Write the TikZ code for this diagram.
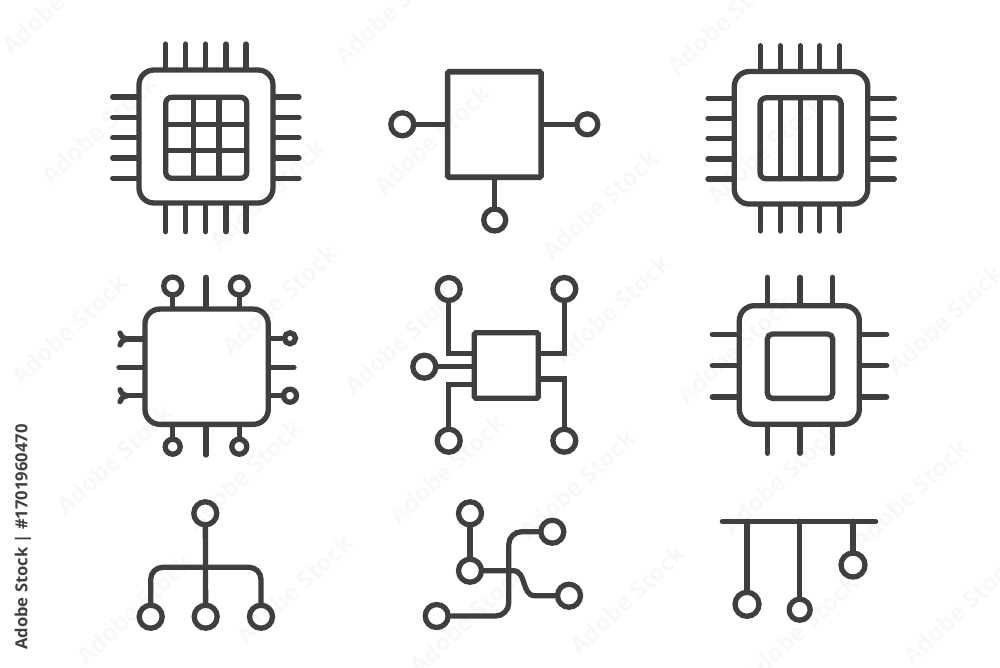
\documentclass[tikz,border=0pt]{standalone}
\usepackage{fontspec}
\newfontfamily\stockfont{Open Sans}
\definecolor{icongray}{HTML}{3F3F3F}
\definecolor{stampgray}{HTML}{F8F8F8}
\tikzset{
    wire/.style={draw=icongray,line width=5.3pt,line cap=round},
    chipbox/.style={draw=icongray,line width=5.3pt,rectangle,rounded corners=15pt,inner sep=0pt},
    corebox/.style={chipbox,rounded corners=6pt},
    pad/.style={draw=icongray,line width=5.3pt,circle,inner sep=0pt,minimum size=23pt},
    stampnote/.style={text=stampgray,rotate=43,anchor=west,inner sep=0pt,font=\stockfont\bfseries\fontsize{24}{24}\selectfont}
}
\begin{document}
\begin{tikzpicture}[x=1pt,y=-1pt]
    \useasboundingbox (0,0) rectangle (1000,667);
    \foreach \x/\y in {5/50,45/180,15/380,225/350,60/510,190/525,80/660,240/640,-120/235}
        \foreach \k in {0,1,2}
            \node[stampnote] (stamp\x-\k) at ({\x+333*\k},{\y+10*\k}) {Adobe Stock};
    \node[rotate=90,anchor=west,inner sep=0pt,text=icongray,font=\stockfont\bfseries\fontsize{16.6}{16.6}\selectfont] (stockline) at (23,650) {Adobe Stock | \#1701960470};

    \node[chipbox,minimum width=134pt,minimum height=133pt] (chipa) at (206,136.5) {};
    \node[corebox,minimum width=81pt,minimum height=81pt] (corea) at (206.2,137.8) {};
    \draw[wire] (193.3,97.8) -- (193.3,178.2);
    \draw[wire] (219,97.8) -- (219,178.2);
    \draw[wire] (165.7,124.3) -- (246.7,124.3);
    \draw[wire] (165.7,150.7) -- (246.7,150.7);
    \foreach \x in {165.7,185.7,205.7,226,246} {
        \draw[wire] (\x,44) -- (chipa.north -| \x,44);
        \draw[wire] (\x,231.7) -- (chipa.south -| \x,231.7);
    }
    \foreach \y in {97,117.3,137.7,158,178.3} {
        \draw[wire] (112.7,\y) -- (chipa.west |- 112.7,\y);
        \draw[wire] (299,\y) -- (chipa.east |- 299,\y);
    }

    \node[draw=icongray,line width=5.6pt,rectangle,rounded corners=1.5pt,inner sep=0pt,minimum width=93.5pt,minimum height=105.5pt] (blockb) at (494.4,124.5) {};
    \node[pad] (padbl) at (402.3,124.3) {};
    \node[pad,minimum size=21pt] (padbr) at (587.3,124.3) {};
    \node[pad,minimum size=22pt] (padbb) at (494.7,220) {};
    \draw[wire] (padbl) -- (blockb.west |- padbl);
    \draw[wire] (padbr) -- (blockb.east |- padbr);
    \draw[wire] (padbb) -- (blockb.south -| padbb);

    \node[chipbox,minimum width=133.5pt,minimum height=132.5pt] (chipc) at (801,137.8) {};
    \node[corebox,minimum width=81pt,minimum height=81pt] (corec) at (800.6,138.3) {};
    \foreach \x in {780.3,800.3,820}
        \draw[wire] (\x,97.8) -- (\x,178.8);
    \foreach \x in {760.3,780.3,800.3,819.7,839.7} {
        \draw[wire] (\x,45.7) -- (chipc.north -| \x,45.7);
        \draw[wire] (\x,231) -- (chipc.south -| \x,231);
    }
    \foreach \y in {98.3,118.7,138.3,159,179} {
        \draw[wire] (708,\y) -- (chipc.west |- 708,\y);
        \draw[wire] (894.3,\y) -- (chipc.east |- 894.3,\y);
    }

    \node[chipbox,minimum width=123.3pt,minimum height=115.3pt] (chipd) at (206.6,366.7) {};
    \node[pad,minimum size=18pt] (padda) at (172.7,286) {};
    \node[pad,minimum size=18pt] (paddb) at (239.3,286) {};
    \node[pad,minimum size=15pt] (paddc) at (172.7,446.7) {};
    \node[pad,minimum size=15pt] (paddd) at (239.3,446.7) {};
    \node[pad,minimum size=11pt] (padde) at (290,338.3) {};
    \node[pad,minimum size=13pt] (paddf) at (290,395.7) {};
    \draw[wire] (padda) -- (chipd.north -| padda);
    \draw[wire] (paddb) -- (chipd.north -| paddb);
    \draw[wire] (paddc) -- (chipd.south -| paddc);
    \draw[wire] (paddd) -- (chipd.south -| paddd);
    \draw[wire] (padde) -- (chipd.east |- padde);
    \draw[wire] (paddf) -- (chipd.east |- paddf);
    \draw[wire] (206,277.3) -- (chipd.north -| 206,277.3);
    \draw[wire] (206,455) -- (chipd.south -| 206,455);
    \draw[wire] (294,367.3) -- (chipd.east |- 294,367.3);
    \draw[wire] (119,367.3) -- (chipd.west |- 119,367.3);
    \foreach \y in {339,395.7} {
        \draw[wire] (127,\y) -- (chipd.west |- 127,\y);
        \draw[wire] (120,\y-6) .. controls (121.5,\y-2) and (124,\y) .. (127,\y) .. controls (124,\y) and (121.5,\y+2) .. (120,\y+6);
    }

    \node[draw=icongray,line width=5.3pt,rectangle,rounded corners=1.5pt,inner sep=0pt,minimum width=64pt,minimum height=65.6pt] (blocke) at (506.3,365.5) {};
    \node[pad] (padea) at (448.7,289) {};
    \node[pad] (padeb) at (564.3,289) {};
    \node[pad] (padec) at (424.3,366.7) {};
    \node[pad] (paded) at (448.7,440.7) {};
    \node[pad] (padee) at (564.3,440.7) {};
    \draw[wire] (padea) |- (blocke.west |- 0,353.3);
    \draw[wire] (padeb) |- (blocke.east |- 0,353.3);
    \draw[wire] (padec) -- (blocke.west |- padec);
    \draw[wire] (paded) |- (blocke.west |- 0,384.3);
    \draw[wire] (padee) |- (blocke.east |- 0,379);

    \node[chipbox,minimum width=120pt,minimum height=118.6pt] (chipf) at (799.3,365) {};
    \node[corebox,minimum width=65.4pt,minimum height=64.3pt,rounded corners=5pt] (coref) at (800,366.2) {};
    \foreach \x in {767.3,800,832.3} {
        \draw[wire] (\x,277.3) -- (chipf.north -| \x,277.3);
        \draw[wire] (\x,453.3) -- (chipf.south -| \x,453.3);
    }
    \foreach \y in {334.3,365.7,397} {
        \draw[wire] (712.3,\y) -- (chipf.west |- 712.3,\y);
        \draw[wire] (886.7,\y) -- (chipf.east |- 886.7,\y);
    }

    \node[pad] (padga) at (205.3,513.3) {};
    \node[pad] (padgb) at (150.7,616.7) {};
    \node[pad] (padgc) at (205.7,616.7) {};
    \node[pad] (padgd) at (261,616.7) {};
    \draw[wire] (padga) -- (padgc);
    \draw[wire,rounded corners=12pt] (padgb) -- (150.7,567.3) -- (261,567.3) -- (padgd);

    \node[pad] (padha) at (470,513.3) {};
    \node[pad] (padhb) at (470,570.7) {};
    \node[pad] (padhc) at (552.3,531.7) {};
    \node[pad] (padhd) at (569,595.7) {};
    \node[pad] (padhe) at (436.7,616) {};
    \draw[wire] (padha) -- (padhb);
    \draw[wire] (padhb) -- (513,570.7) .. controls (527,570.7) and (521,595.7) .. (535,595.7) -- (padhd);
    \draw[wire,rounded corners=13pt] (padhe) -- (508.7,616) -- (508.7,531.7) -- (padhc);

    \coordinate (barl) at (722.3,521.3);
    \coordinate (barr) at (875.7,521.3);
    \node[pad,minimum size=24pt] (padia) at (747,604.3) {};
    \node[pad,minimum size=21pt] (padib) at (799.7,609.7) {};
    \node[pad,minimum size=24pt] (padic) at (853,565) {};
    \draw[wire] (barl) -- (barr);
    \draw[wire] (padia) -- (padia |- barl);
    \draw[wire] (padib) -- (padib |- barl);
    \draw[wire] (padic) -- (padic |- barl);
\end{tikzpicture}
\end{document}
